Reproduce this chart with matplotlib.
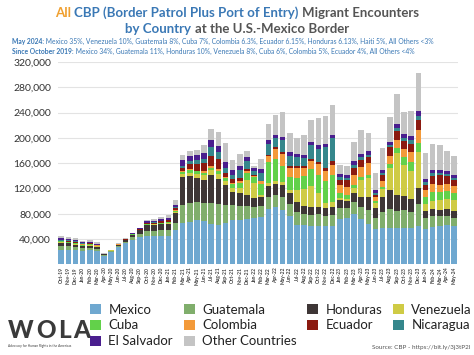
import matplotlib
matplotlib.use("Agg")
import matplotlib.pyplot as plt
from matplotlib.patches import Patch

plt.rcParams['font.family'] = ['Lato', 'DejaVu Sans']

months = ["Oct-19", "Nov-19", "Dec-19", "Jan-20", "Feb-20", "Mar-20", "Apr-20", "May-20",
          "Jun-20", "Jul-20", "Aug-20", "Sep-20", "Oct-20", "Nov-20", "Dec-20", "Jan-21",
          "Feb-21", "Mar-21", "Apr-21", "May-21", "Jun-21", "Jul-21", "Aug-21", "Sep-21",
          "Oct-21", "Nov-21", "Dec-21", "Jan-22", "Feb-22", "Mar-22", "Apr-22", "May-22",
          "Jun-22", "Jul-22", "Aug-22", "Sep-22", "Oct-22", "Nov-22", "Dec-22", "Jan-23",
          "Feb-23", "Mar-23", "Apr-23", "May-23", "Jun-23", "Jul-23", "Aug-23", "Sep-23",
          "Oct-23", "Nov-23", "Dec-23", "Jan-24", "Feb-24", "Mar-24", "Apr-24", "May-24"]

# encounters in thousands
mexico = [23, 23, 22, 21, 22, 21, 13.5, 19.5, 27.5, 33, 39, 43, 44, 44, 44, 45,
          55, 65, 67, 70, 68, 63, 62, 66, 70, 70, 72, 73, 75, 87, 90, 86,
          76, 62, 62, 60, 61, 60, 61, 72, 73, 80, 72, 64, 56, 57, 58, 57,
          58, 58, 61, 56, 59, 60, 62, 60]
guatemala = [6, 5.5, 5, 4.3, 4.2, 3.8, 1.2, 1.3, 2, 3, 4, 5.5, 9, 9, 9.5, 9.5,
             10, 29, 30, 28, 29, 34, 33, 28, 24, 22, 21, 18, 17, 20, 20, 21,
             20, 20, 17, 18, 18, 17, 17, 17, 16, 19, 19, 22, 17, 25, 30, 28,
             28, 25, 35, 18, 17, 16, 15, 14]
honduras = [5, 4.5, 4, 3.5, 3.3, 3, 1, 1, 1.6, 2.5, 3.8, 5, 9, 9.5, 10, 10,
            16, 44, 42, 38, 37, 45, 40, 31, 20, 20, 16, 14, 14, 17, 17, 18,
            17, 17, 14, 13, 12, 12, 12, 12, 11, 13, 15, 20, 16, 25, 30, 25,
            22, 21, 24, 10, 11, 10, 11, 10]
venezuela = [0.5, 0.5, 0.6, 0.6, 0.6, 0.5, 0.1, 0.1, 0.1, 0.2, 0.2, 0.3, 0.5, 0.5, 0.7, 1,
             2, 5, 6, 7, 7, 7, 8, 6, 6, 8, 25, 23, 4, 5, 5, 5,
             5, 18, 26, 33, 22, 8, 8, 4, 4, 9, 27, 30, 8, 12, 35, 66,
             49, 44, 57, 12, 13, 15, 15, 17]
cuba = [2, 2, 2.2, 1.8, 1.6, 1.2, 0.1, 0.1, 0.1, 0.2, 0.3, 0.4, 0.8, 1, 1.2, 1.5,
        2, 3, 4, 4, 4, 4, 5, 5, 7, 8, 10, 10, 17, 33, 35, 25,
        20, 20, 20, 26, 29, 35, 43, 8, 6, 5, 5, 5, 3, 4, 6, 8,
        12, 14, 15, 11, 14, 13, 13, 12]
colombia = [0.3, 0.3, 0.3, 0.3, 0.3, 0.3, 0.05, 0.05, 0.1, 0.1, 0.1, 0.1, 0.2, 0.2, 0.3, 0.3,
            0.5, 1, 1, 1, 2, 2, 2, 2, 2, 3, 3, 2, 4, 10, 16, 20,
            15, 15, 14, 13, 16, 16, 16, 13, 13, 16, 16, 19, 6, 9, 13, 12,
            14, 16, 20, 11, 13, 12, 11, 11]
ecuador = [0.8, 0.8, 0.8, 1, 1, 0.8, 0.2, 0.2, 0.3, 0.4, 0.6, 0.9, 1.5, 1.8, 2.2, 2.5,
           3.5, 6, 9, 11, 13, 17, 17, 7, 6, 5, 3, 1, 1, 1, 2, 3,
           3, 3, 3, 3, 4, 4, 6, 8, 10, 11, 11, 9, 4, 9, 13, 15,
           12, 13, 16, 8, 13, 15, 13, 10]
nicaragua = [1.5, 1.3, 1.2, 0.9, 0.8, 0.7, 0.2, 0.2, 0.3, 0.4, 0.4, 0.5, 0.7, 0.7, 0.8, 1,
             1.5, 3, 4, 6, 7, 13, 10, 8, 7, 13, 14, 7, 13, 17, 14, 18,
             16, 14, 12, 23, 21, 34, 36, 4, 4, 4, 4, 4, 3, 3, 3, 4,
             4, 5, 6, 4, 4, 3, 3, 3]
el_salvador = [2, 1.8, 1.7, 1.5, 1.4, 1.2, 0.4, 0.4, 0.5, 0.6, 0.9, 1.2, 2.2, 2.3, 2.5, 2.8,
               4, 9, 8, 8, 9, 11, 10, 9, 7, 6, 5, 4, 5, 6, 6, 6,
               5, 5, 5, 5, 5, 5, 5, 5, 5, 6, 6, 6, 5, 5, 6, 7,
               7, 7, 8, 5, 5, 5, 5, 5]
others = [4, 3.3, 3.2, 2.7, 2.5, 2, 0.4, 0.4, 0.6, 0.6, 0.7, 1.1, 2.1, 2.6, 3.3, 4.8,
          6.5, 8, 8, 8, 13, 18, 23, 30, 16, 20, 10, 3, 16, 26, 31, 39,
          31, 26, 31, 34, 44, 44, 48, 14, 14, 30, 37, 28, 27, 35, 39, 48,
          35, 39, 60, 41, 41, 40, 32, 29]

series = [
    ("Mexico", mexico, "#6FA8D0"),
    ("Guatemala", guatemala, "#80AE6C"),
    ("Honduras", honduras, "#3E3636"),
    ("Venezuela", venezuela, "#CFCB45"),
    ("Cuba", cuba, "#62D14A"),
    ("Colombia", colombia, "#F39A3A"),
    ("Ecuador", ecuador, "#8B1A10"),
    ("Nicaragua", nicaragua, "#35878C"),
    ("El Salvador", el_salvador, "#4A1E8E"),
    ("Other Countries", others, "#C4C4C4"),
]

fig = plt.figure(figsize=(4.74, 3.55), dpi=100)
ax = fig.add_axes([58 / 474, 1 - 264.3 / 355, 400 / 474, (264.3 - 62) / 355])

x = range(len(months))
bottom = [0] * len(months)
for name, vals, col in series:
    v = [k * 1000 for k in vals]
    ax.bar(x, v, bottom=bottom, width=0.78, color=col, linewidth=0, zorder=2)
    bottom = [b + k for b, k in zip(bottom, v)]

ax.set_xlim(-0.45, 55.55)
ax.set_ylim(0, 320000)
ax.set_yticks(range(40000, 320001, 40000))
ax.set_yticklabels([f"{t:,}" for t in range(40000, 320001, 40000)], fontsize=7.5, color="#333333")
ax.grid(axis="y", color="#E3E3E3", linewidth=0.8, zorder=0)
ax.set_xticks(list(x))
ax.set_xticklabels(months, rotation=90, fontsize=3.6, fontweight="bold", color="#444444")
ax.tick_params(length=0, pad=2)
ax.tick_params(axis="y", pad=5)
for s in ax.spines.values():
    s.set_visible(False)

renderer = fig.canvas.get_renderer()


def width(s, **kw):
    t = fig.text(0, 0, s + "|", **kw)
    w1 = t.get_window_extent(renderer).width
    t.set_text("|")
    w2 = t.get_window_extent(renderer).width
    t.remove()
    return w1 - w2


def line(parts, y, size, x0=None, center=None, track=0):
    ws = [width(s, fontsize=size, fontweight=w) + track for s, c, w in parts]
    start = center - sum(ws) / 2 if center is not None else x0
    pos = start
    for (s, c, w), wd in zip(parts, ws):
        fig.text(pos / 474, 1 - y / 355, s, fontsize=size, fontweight=w, color=c, va="baseline")
        pos += wd


blue = "#3A78B5"
grey = "#555555"
orange = "#F0A030"
line([("All ", orange, "bold"), ("CBP (Border Patrol Plus Port of Entry) ", blue, "bold"),
      ("Migrant Encounters", grey, "bold")], 17, 9.5, center=237)
line([("by Country ", blue, "bold"), ("at the U.S.-Mexico Border", grey, "bold")], 33, 9.5, center=237)
line([("May 2024:", blue, "bold"),
      (" Mexico 35%, Venezuela 10%, Guatemala 8%, Cuba 7%, Colombia 6.3%, Ecuador 6.15%, "
       "Honduras 6.13%, Haiti 5%, All Others <3%", blue, "normal")], 44, 4.9, x0=12)
line([("Since October 2019:", blue, "bold"),
      (" Mexico 34%, Guatemala 11%, Honduras 10%, Venezuela 8%, Cuba 6%, Colombia 5%, "
       "Ecuador 4%, All Others <4%", blue, "normal")], 54, 4.9, x0=12)

colors = {n: c for n, v, c in series}
order = ["Mexico", "Cuba", "El Salvador", "Guatemala", "Colombia", "Other Countries",
         "Honduras", "Ecuador", "Venezuela", "Nicaragua"]
handles = [Patch(facecolor=colors[n], edgecolor="none", label=n) for n in order]
fig.legend(handles=handles, ncol=4, loc="upper left", bbox_to_anchor=(90 / 474, 1 - 303.5 / 355),
           frameon=False, fontsize=9.5, handlelength=0.85, handleheight=0.85,
           handletextpad=0.55, columnspacing=0.8, labelspacing=0.3, borderpad=0, borderaxespad=0,
           labelcolor="#222222")

# WOLA logo as spaced letters
line([(ch, "#3A3A3A", "black") for ch in "WOLA"], 338, 17.5, x0=8, track=2.5)
fig.text(8 / 474, 1 - 347 / 355, "Advocacy for Human Rights in the Americas", fontsize=2.3,
         color="#3A3A3A")
fig.text(470 / 474, 1 - 349 / 355, "Source: CBP - https://bit.ly/3j3tP2l", fontsize=4.5,
         color="#555555", ha="right")

fig.savefig("out.png", dpi=100)
